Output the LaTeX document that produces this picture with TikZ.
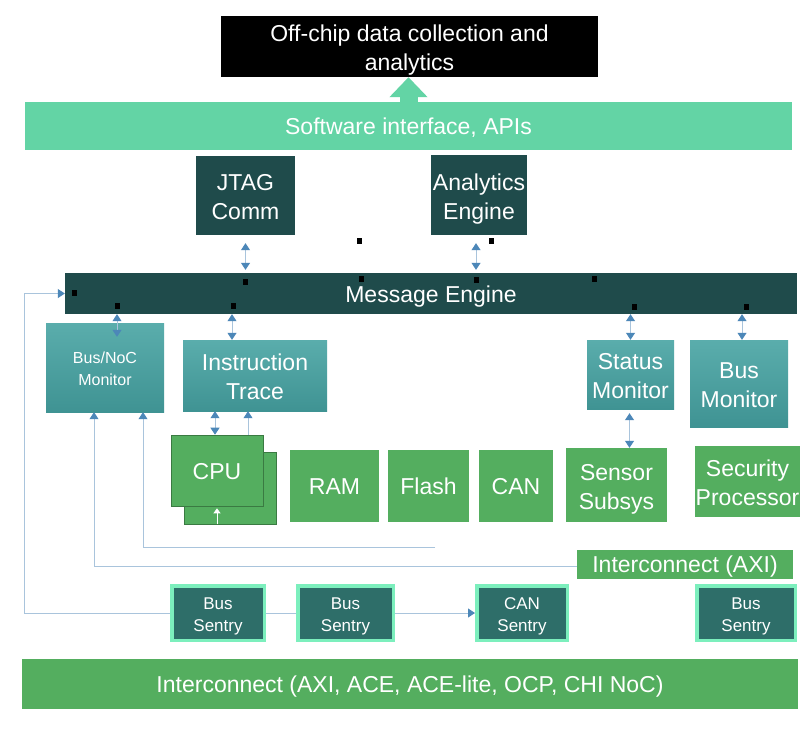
\documentclass[tikz,border=0pt]{standalone}
\usepackage{fontspec}
\setmainfont{Liberation Sans}
\usetikzlibrary{arrows.meta,calc}
\definecolor{swgreen}{HTML}{63D4A5}
\definecolor{dteal}{HTML}{1F4B4B}
\definecolor{mtop}{HTML}{5AADAC}
\definecolor{mbot}{HTML}{3F9393}
\definecolor{gr}{HTML}{54AE5F}
\definecolor{grd}{HTML}{3A7A42}
\definecolor{sent}{HTML}{2E6E69}
\definecolor{glow}{HTML}{7CEFBD}
\definecolor{lnc}{HTML}{A9C4DC}
\definecolor{tipc}{HTML}{4C87B8}
\newcommand\twol[2]{\raisebox{-0.18em}[\height][\depth]{\begin{tabular}{@{}c@{}}#1\\#2\end{tabular}}}
\tikzset{
  base/.style={rectangle, inner sep=0pt, align=center, text=white,
    font=\fontsize{23}{29}\selectfont,
    execute at begin node={\rule{0pt}{0.99em}},
    execute at end node={\rule[-0.22em]{0pt}{0pt}}},
  blk/.style={base, fill=black},
  swc/.style={base, fill=swgreen},
  dk/.style={base, fill=dteal},
  mon/.style={base, top color=mtop, bottom color=mbot},
  grn/.style={base, fill=gr},
  sentry/.style={base, fill=sent, draw=glow, line width=3.5pt,
    font=\fontsize{17}{22}\selectfont},
  ln/.style={draw=lnc, line width=1pt},
  ar/.style={ln, -{Triangle[length=7pt,width=9pt,color=tipc,fill=tipc]}},
  dar/.style={ln, {Triangle[length=7pt,width=9pt,color=tipc,fill=tipc]}-{Triangle[length=7pt,width=9pt,color=tipc,fill=tipc]}},
  sq/.style={fill=black, rectangle, minimum width=5pt, minimum height=6pt, inner sep=0pt},
  bigarrow/.style={draw=swgreen, line width=18pt, -{Triangle[length=20pt,width=37pt,color=swgreen,fill=swgreen]}}
}
\begin{document}
\begin{tikzpicture}[x=1pt,y=-1pt]
\useasboundingbox (0,0) rectangle (810,728);
\fill[white] (0,0) rectangle (810,728);

% top
\node[blk, minimum width=377pt, minimum height=61pt] (off) at (409.5,46.5) {\twol{Off-chip data collection and}{analytics}};
\node[swc, minimum width=767pt, minimum height=48pt] (sw) at (408.5,126) {Software interface, APIs};
\node[dk, minimum width=99pt, minimum height=79pt] (jtag) at (245.5,195.5) {\twol{JTAG}{Comm}};
\node[dk, minimum width=96pt, minimum height=80pt] (an) at (479,195) {\twol{Analytics}{Engine}};
\node[dk, minimum width=732pt, minimum height=41pt] (me) at (431,293.5) {Message Engine};

% monitors
\node[mon, minimum width=118pt, minimum height=89pt, font=\fontsize{16}{21.5}\selectfont] (busnoc) at (105,367.5) {\twol{Bus/NoC}{Monitor}};
\node[mon, minimum width=144pt, minimum height=71pt] (it) at (255,375.5) {\twol{Instruction}{Trace}};
\node[mon, minimum width=87pt, minimum height=69pt] (status) at (630.5,374.5) {\twol{Status}{Monitor}};
\node[mon, minimum width=98pt, minimum height=87pt] (busmon) at (739,383.5) {\twol{Bus}{Monitor}};

% green blocks
\node[grn, draw=grd, line width=0.6pt, minimum width=92pt, minimum height=72pt] (cpub) at (230,488) {};
\node[grn, draw=grd, line width=0.6pt, minimum width=92pt, minimum height=71pt] (cpu) at (217,470.5) {CPU};
\node[grn, minimum width=89pt, minimum height=72pt] (ram) at (334.5,486) {RAM};
\node[grn, minimum width=81pt, minimum height=72pt] (flash) at (428.5,486) {Flash};
\node[grn, minimum width=74pt, minimum height=72pt] (can) at (516,486) {CAN};
\node[grn, minimum width=101pt, minimum height=74pt] (sensor) at (616.5,485) {\twol{Sensor}{Subsys}};
\node[grn, minimum width=105pt, minimum height=71pt] (sec) at (747.5,481.5) {\twol{Security}{Processor}};
\node[grn, minimum width=216pt, minimum height=29pt] (axi) at (685,564) {Interconnect (AXI)};

% sentries
\node[sentry, minimum width=92.5pt, minimum height=54.5pt] (bs1) at (218,613) {\twol{Bus}{Sentry}};
\node[sentry, minimum width=95.5pt, minimum height=54.5pt] (bs2) at (345.5,613) {\twol{Bus}{Sentry}};
\node[sentry, minimum width=90.5pt, minimum height=54.5pt] (cans) at (522,613) {\twol{CAN}{Sentry}};
\node[sentry, minimum width=98.5pt, minimum height=54.5pt] (bs4) at (746,613) {\twol{Bus}{Sentry}};

\node[grn, minimum width=776pt, minimum height=50pt] (ic) at (410,684) {Interconnect (AXI, ACE, ACE-lite, OCP, CHI NoC)};

% connectors
\draw[bigarrow] (sw.north) -- (sw.north |- off.south);
\draw[dar, shorten <=8pt, shorten >=3pt] (jtag.south) -- (jtag.south |- me.north);
\draw[dar, shorten <=8pt, shorten >=3pt] ([xshift=-3pt]an.south) -- ([xshift=-3pt]an.south |- me.north);
\draw[dar] ([xshift=12pt]busnoc.north |- me.south) -- ([xshift=12pt,yshift=-14pt]busnoc.north);
\draw[dar] ([xshift=-23pt]it.north |- me.south) -- ([xshift=-23pt]it.north);
\draw[dar] (status.north |- me.south) -- (status.north);
\draw[dar] ([xshift=3pt]busmon.north |- me.south) -- ([xshift=3pt]busmon.north);
\draw[dar] ([xshift=-2pt]cpu.north) -- ([xshift=-2pt]cpu.north |- it.south);
\draw[ar] ([xshift=31pt]cpu.north) -- ([xshift=31pt]cpu.north |- it.south);
\draw[dar, shorten <=4pt] ([xshift=-1pt]status.south) -- ([xshift=-1pt]status.south |- sensor.north);
\draw[white, line width=1pt, -{Triangle[length=5pt,width=7pt]}] (cpub.south -| cpu.south) -- ++(0,-16);

\coordinate (l1end) at (435,547);
\draw[ar] (l1end) -| ([xshift=38pt]busnoc.south);
\draw[ar] ([yshift=-2pt]axi.west) -| ([xshift=-11pt]busnoc.south);

\coordinate (corner) at (24,613);
\draw[ar] (bs1.west) -- (corner) -- (corner |- me.west) -- (me.west);
\draw[ln] (bs1.east) -- (bs2.west);
\draw[ar] (bs2.east) -- (cans.west);

% small black markers
\node[sq] (s1) at (359,241) {};
\node[sq] (s2) at (491,241) {};
\node[sq] (s3) at (245,282) {};
\node[sq] (s4) at (361,279) {};
\node[sq] (s5) at (476,280) {};
\node[sq] (s6) at (594,279) {};
\node[sq] (s7) at (74,293) {};
\node[sq] (s8) at (117,306) {};
\node[sq] (s9) at (233,306) {};
\node[sq] (s10) at (634,307) {};
\node[sq] (s11) at (746,307) {};
\end{tikzpicture}
\end{document}
